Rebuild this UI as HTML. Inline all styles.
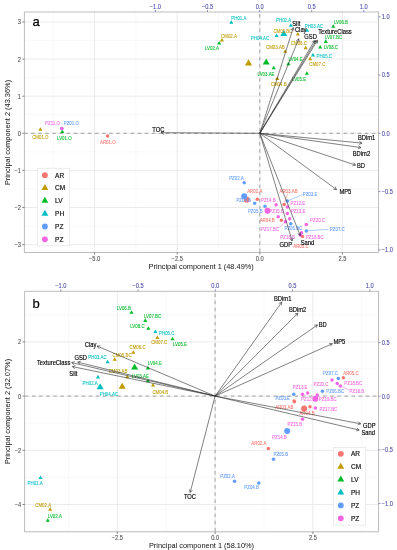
<!DOCTYPE html>
<html><head><meta charset="utf-8"><style>
html,body{margin:0;padding:0;background:#fff;}
body{width:397px;height:550px;overflow:hidden;font-family:"Liberation Sans",sans-serif;}
svg{display:block;filter:blur(0.3px);}
text{font-family:"Liberation Sans",sans-serif;}
</style></head><body>
<svg width="397" height="550" viewBox="0 0 397 550" font-family="Liberation Sans, sans-serif">
<rect width="397" height="550" fill="#fff"/>
<line x1="53.30000000000001" y1="12.0" x2="53.30000000000001" y2="252.5" stroke="#f3f3f3" stroke-width="0.6"/><line x1="135.90000000000003" y1="12.0" x2="135.90000000000003" y2="252.5" stroke="#f3f3f3" stroke-width="0.6"/><line x1="218.5" y1="12.0" x2="218.5" y2="252.5" stroke="#f3f3f3" stroke-width="0.6"/><line x1="301.1" y1="12.0" x2="301.1" y2="252.5" stroke="#f3f3f3" stroke-width="0.6"/><line x1="24.4" y1="40.55000000000001" x2="378.5" y2="40.55000000000001" stroke="#f3f3f3" stroke-width="0.6"/><line x1="24.4" y1="77.65" x2="378.5" y2="77.65" stroke="#f3f3f3" stroke-width="0.6"/><line x1="24.4" y1="114.75000000000001" x2="378.5" y2="114.75000000000001" stroke="#f3f3f3" stroke-width="0.6"/><line x1="24.4" y1="151.85000000000002" x2="378.5" y2="151.85000000000002" stroke="#f3f3f3" stroke-width="0.6"/><line x1="24.4" y1="188.95000000000002" x2="378.5" y2="188.95000000000002" stroke="#f3f3f3" stroke-width="0.6"/><line x1="24.4" y1="226.05" x2="378.5" y2="226.05" stroke="#f3f3f3" stroke-width="0.6"/><line x1="94.60000000000002" y1="12.0" x2="94.60000000000002" y2="252.5" stroke="#e6e6e6" stroke-width="0.8"/><line x1="177.20000000000002" y1="12.0" x2="177.20000000000002" y2="252.5" stroke="#e6e6e6" stroke-width="0.8"/><line x1="259.8" y1="12.0" x2="259.8" y2="252.5" stroke="#e6e6e6" stroke-width="0.8"/><line x1="342.4" y1="12.0" x2="342.4" y2="252.5" stroke="#e6e6e6" stroke-width="0.8"/><line x1="24.4" y1="22.0" x2="378.5" y2="22.0" stroke="#e6e6e6" stroke-width="0.8"/><line x1="24.4" y1="59.10000000000001" x2="378.5" y2="59.10000000000001" stroke="#e6e6e6" stroke-width="0.8"/><line x1="24.4" y1="96.20000000000002" x2="378.5" y2="96.20000000000002" stroke="#e6e6e6" stroke-width="0.8"/><line x1="24.4" y1="133.3" x2="378.5" y2="133.3" stroke="#e6e6e6" stroke-width="0.8"/><line x1="24.4" y1="170.4" x2="378.5" y2="170.4" stroke="#e6e6e6" stroke-width="0.8"/><line x1="24.4" y1="207.5" x2="378.5" y2="207.5" stroke="#e6e6e6" stroke-width="0.8"/><line x1="24.4" y1="244.60000000000002" x2="378.5" y2="244.60000000000002" stroke="#e6e6e6" stroke-width="0.8"/>
<line x1="24.4" y1="133.3" x2="378.5" y2="133.3" stroke="#8c8c8c" stroke-width="0.8" stroke-dasharray="3.55 3.55" stroke-dashoffset="0.4"/>
<line x1="259.8" y1="252.5" x2="259.8" y2="12.0" stroke="#8c8c8c" stroke-width="0.8" stroke-dasharray="3.55 3.55" stroke-dashoffset="6.65"/>
<line x1="306.3" y1="230.9" x2="328.5" y2="229.3" stroke="#619CFF" stroke-width="0.5"/>
<line x1="287.4" y1="201.0" x2="302.5" y2="194.6" stroke="#619CFF" stroke-width="0.5"/>
<line x1="284.1" y1="204.4" x2="287.7" y2="193.5" stroke="#F8766D" stroke-width="0.5"/>
<line x1="285.4" y1="221.7" x2="279.2" y2="227.5" stroke="#F564E3" stroke-width="0.5"/>
<circle cx="107.60" cy="136.00" r="1.75" fill="#F8766D"/>
<circle cx="257.30" cy="199.20" r="1.75" fill="#F8766D"/>
<circle cx="284.10" cy="204.40" r="1.75" fill="#F8766D"/>
<circle cx="281.40" cy="220.20" r="1.75" fill="#F8766D"/>
<circle cx="302.50" cy="236.60" r="1.75" fill="#F8766D"/>
<path d="M38.35 130.78L42.45 130.78L40.40 127.23Z" fill="#C09C00"/>
<path d="M219.85 41.58L223.95 41.58L221.90 38.03Z" fill="#C09C00"/>
<path d="M283.15 52.78L287.25 52.78L285.20 49.23Z" fill="#C09C00"/>
<path d="M275.25 79.88L279.35 79.88L277.30 76.33Z" fill="#C09C00"/>
<path d="M295.75 35.58L299.85 35.58L297.80 32.03Z" fill="#C09C00"/>
<path d="M303.55 49.18L307.65 49.18L305.60 45.63Z" fill="#C09C00"/>
<path d="M308.15 60.28L312.25 60.28L310.20 56.73Z" fill="#C09C00"/>
<path d="M60.25 133.08L64.35 133.08L62.30 129.53Z" fill="#00BB28"/>
<path d="M217.15 44.48L221.25 44.48L219.20 40.93Z" fill="#00BB28"/>
<path d="M271.65 69.28L275.75 69.28L273.70 65.73Z" fill="#00BB28"/>
<path d="M286.35 65.28L290.45 65.28L288.40 61.73Z" fill="#00BB28"/>
<path d="M304.85 74.78L308.95 74.78L306.90 71.23Z" fill="#00BB28"/>
<path d="M331.25 27.68L335.35 27.68L333.30 24.13Z" fill="#00BB28"/>
<path d="M323.75 42.88L327.85 42.88L325.80 39.33Z" fill="#00BB28"/>
<path d="M318.15 48.48L322.25 48.48L320.20 44.93Z" fill="#00BB28"/>
<path d="M229.25 23.78L233.35 23.78L231.30 20.23Z" fill="#00BFC4"/>
<path d="M288.75 26.78L292.85 26.78L290.80 23.23Z" fill="#00BFC4"/>
<path d="M304.95 31.68L309.05 31.68L307.00 28.13Z" fill="#00BFC4"/>
<path d="M274.55 37.08L278.65 37.08L276.60 33.53Z" fill="#00BFC4"/>
<path d="M310.95 56.38L315.05 56.38L313.00 52.83Z" fill="#00BFC4"/>
<circle cx="61.80" cy="128.40" r="1.75" fill="#619CFF"/>
<circle cx="244.20" cy="182.70" r="1.75" fill="#619CFF"/>
<circle cx="287.40" cy="201.00" r="1.75" fill="#619CFF"/>
<circle cx="254.70" cy="203.30" r="1.75" fill="#619CFF"/>
<circle cx="265.00" cy="206.30" r="1.75" fill="#619CFF"/>
<circle cx="290.80" cy="223.70" r="1.75" fill="#619CFF"/>
<circle cx="306.30" cy="230.90" r="1.75" fill="#619CFF"/>
<circle cx="61.80" cy="128.40" r="1.75" fill="#F564E3"/>
<circle cx="287.40" cy="207.00" r="1.75" fill="#F564E3"/>
<circle cx="287.40" cy="213.60" r="1.75" fill="#F564E3"/>
<circle cx="276.10" cy="204.80" r="1.75" fill="#F564E3"/>
<circle cx="278.20" cy="216.70" r="1.75" fill="#F564E3"/>
<circle cx="300.30" cy="235.00" r="1.75" fill="#F564E3"/>
<circle cx="285.40" cy="221.70" r="1.75" fill="#F564E3"/>
<circle cx="301.50" cy="232.80" r="1.75" fill="#F564E3"/>
<circle cx="289.60" cy="218.70" r="1.75" fill="#F564E3"/>
<circle cx="306.30" cy="224.60" r="1.75" fill="#F564E3"/>
<circle cx="246.80" cy="199.80" r="3.0" fill="#F8766D"/>
<path d="M245.00 65.42L252.00 65.42L248.50 59.36Z" fill="#C09C00"/>
<path d="M262.70 64.62L269.70 64.62L266.20 58.56Z" fill="#00BB28"/>
<path d="M280.20 36.02L287.20 36.02L283.70 29.96Z" fill="#00BFC4"/>
<circle cx="244.20" cy="196.20" r="3.0" fill="#619CFF"/>
<circle cx="267.50" cy="210.70" r="3.0" fill="#F564E3"/>
<text transform="translate(107.80,143.90) scale(0.8333,1)" font-size="5.28" fill="#F8766D" stroke="#F8766D" stroke-width="0.090" text-anchor="middle" >AR01.O</text>
<text transform="translate(254.75,192.70) scale(0.8333,1)" font-size="5.28" fill="#F8766D" stroke="#F8766D" stroke-width="0.090" text-anchor="middle" >AR02.A</text>
<text transform="translate(288.55,193.10) scale(0.8333,1)" font-size="5.28" fill="#F8766D" stroke="#F8766D" stroke-width="0.090" text-anchor="middle" >AR03.AB</text>
<text transform="translate(267.20,221.90) scale(0.8333,1)" font-size="5.28" fill="#F8766D" stroke="#F8766D" stroke-width="0.090" text-anchor="middle" >AR04.B</text>
<text transform="translate(300.90,248.30) scale(0.8333,1)" font-size="5.28" fill="#F8766D" stroke="#F8766D" stroke-width="0.090" text-anchor="middle" >AR05.C</text>
<text transform="translate(40.35,138.80) scale(0.8333,1)" font-size="5.28" fill="#C09C00" stroke="#C09C00" stroke-width="0.090" text-anchor="middle" >CM01.O</text>
<text transform="translate(229.00,37.80) scale(0.8333,1)" font-size="5.28" fill="#C09C00" stroke="#C09C00" stroke-width="0.090" text-anchor="middle" >CM02.A</text>
<text transform="translate(275.40,49.00) scale(0.8333,1)" font-size="5.28" fill="#C09C00" stroke="#C09C00" stroke-width="0.090" text-anchor="middle" >CM03.AB</text>
<text transform="translate(278.70,86.20) scale(0.8333,1)" font-size="5.28" fill="#C09C00" stroke="#C09C00" stroke-width="0.090" text-anchor="middle" >CM04.B</text>
<text transform="translate(282.95,32.80) scale(0.8333,1)" font-size="5.28" fill="#C09C00" stroke="#C09C00" stroke-width="0.090" text-anchor="middle" >CM05.BC</text>
<text transform="translate(298.85,45.30) scale(0.8333,1)" font-size="5.28" fill="#C09C00" stroke="#C09C00" stroke-width="0.090" text-anchor="middle" >CM06.C</text>
<text transform="translate(317.30,66.30) scale(0.8333,1)" font-size="5.28" fill="#C09C00" stroke="#C09C00" stroke-width="0.090" text-anchor="middle" >CM07.C</text>
<text transform="translate(64.30,139.60) scale(0.8333,1)" font-size="5.28" fill="#00BB28" stroke="#00BB28" stroke-width="0.090" text-anchor="middle" >LV01.O</text>
<text transform="translate(212.00,50.20) scale(0.8333,1)" font-size="5.28" fill="#00BB28" stroke="#00BB28" stroke-width="0.090" text-anchor="middle" >LV02.A</text>
<text transform="translate(266.00,75.50) scale(0.8333,1)" font-size="5.28" fill="#00BB28" stroke="#00BB28" stroke-width="0.090" text-anchor="middle" >LV03.AE</text>
<text transform="translate(295.65,61.00) scale(0.8333,1)" font-size="5.28" fill="#00BB28" stroke="#00BB28" stroke-width="0.090" text-anchor="middle" >LV04.E</text>
<text transform="translate(299.05,80.70) scale(0.8333,1)" font-size="5.28" fill="#00BB28" stroke="#00BB28" stroke-width="0.090" text-anchor="middle" >LV05.E</text>
<text transform="translate(340.95,24.00) scale(0.8333,1)" font-size="5.28" fill="#00BB28" stroke="#00BB28" stroke-width="0.090" text-anchor="middle" >LV06.B</text>
<text transform="translate(333.45,38.50) scale(0.8333,1)" font-size="5.28" fill="#00BB28" stroke="#00BB28" stroke-width="0.090" text-anchor="middle" >LV07.BC</text>
<text transform="translate(330.85,48.80) scale(0.8333,1)" font-size="5.28" fill="#00BB28" stroke="#00BB28" stroke-width="0.090" text-anchor="middle" >LV08.C</text>
<text transform="translate(238.85,20.20) scale(0.8333,1)" font-size="5.28" fill="#00BFC4" stroke="#00BFC4" stroke-width="0.090" text-anchor="middle" >PH01.A</text>
<text transform="translate(283.60,22.20) scale(0.8333,1)" font-size="5.28" fill="#00BFC4" stroke="#00BFC4" stroke-width="0.090" text-anchor="middle" >PH02.A</text>
<text transform="translate(313.90,27.60) scale(0.8333,1)" font-size="5.28" fill="#00BFC4" stroke="#00BFC4" stroke-width="0.090" text-anchor="middle" >PH03.AC</text>
<text transform="translate(260.00,40.20) scale(0.8333,1)" font-size="5.28" fill="#00BFC4" stroke="#00BFC4" stroke-width="0.090" text-anchor="middle" >PH04.AC</text>
<text transform="translate(324.30,57.60) scale(0.8333,1)" font-size="5.28" fill="#00BFC4" stroke="#00BFC4" stroke-width="0.090" text-anchor="middle" >PH05.C</text>
<text transform="translate(71.30,125.00) scale(0.8333,1)" font-size="5.28" fill="#619CFF" stroke="#619CFF" stroke-width="0.090" text-anchor="middle" >PZ01.O</text>
<text transform="translate(236.45,180.00) scale(0.8333,1)" font-size="5.28" fill="#619CFF" stroke="#619CFF" stroke-width="0.090" text-anchor="middle" >PZ02.A</text>
<text transform="translate(310.05,196.10) scale(0.8333,1)" font-size="5.28" fill="#619CFF" stroke="#619CFF" stroke-width="0.090" text-anchor="middle" >PZ03.E</text>
<text transform="translate(243.70,201.70) scale(0.8333,1)" font-size="5.28" fill="#619CFF" stroke="#619CFF" stroke-width="0.090" text-anchor="middle" >PZ04.B</text>
<text transform="translate(255.25,212.80) scale(0.8333,1)" font-size="5.28" fill="#619CFF" stroke="#619CFF" stroke-width="0.090" text-anchor="middle" >PZ05.B</text>
<text transform="translate(293.35,230.30) scale(0.8333,1)" font-size="5.28" fill="#619CFF" stroke="#619CFF" stroke-width="0.090" text-anchor="middle" >PZ06.BC</text>
<text transform="translate(337.30,231.10) scale(0.8333,1)" font-size="5.28" fill="#619CFF" stroke="#619CFF" stroke-width="0.090" text-anchor="middle" >PZ07.C</text>
<text transform="translate(52.45,125.00) scale(0.8333,1)" font-size="5.28" fill="#F564E3" stroke="#F564E3" stroke-width="0.090" text-anchor="middle" >PZ11.O</text>
<text transform="translate(297.90,204.50) scale(0.8333,1)" font-size="5.28" fill="#F564E3" stroke="#F564E3" stroke-width="0.090" text-anchor="middle" >PZ12.E</text>
<text transform="translate(298.05,213.30) scale(0.8333,1)" font-size="5.28" fill="#F564E3" stroke="#F564E3" stroke-width="0.090" text-anchor="middle" >PZ13.E</text>
<text transform="translate(268.30,202.20) scale(0.8333,1)" font-size="5.28" fill="#F564E3" stroke="#F564E3" stroke-width="0.090" text-anchor="middle" >PZ14.B</text>
<text transform="translate(276.60,213.30) scale(0.8333,1)" font-size="5.28" fill="#F564E3" stroke="#F564E3" stroke-width="0.090" text-anchor="middle" >PZ15.B</text>
<text transform="translate(287.65,238.70) scale(0.8333,1)" font-size="5.28" fill="#F564E3" stroke="#F564E3" stroke-width="0.090" text-anchor="middle" >PZ16.B</text>
<text transform="translate(270.00,230.70) scale(0.8333,1)" font-size="5.28" fill="#F564E3" stroke="#F564E3" stroke-width="0.090" text-anchor="middle" >PZ17.BC</text>
<text transform="translate(314.80,239.20) scale(0.8333,1)" font-size="5.28" fill="#F564E3" stroke="#F564E3" stroke-width="0.090" text-anchor="middle" >PZ18.BC</text>
<text transform="translate(317.55,222.10) scale(0.8333,1)" font-size="5.28" fill="#F564E3" stroke="#F564E3" stroke-width="0.090" text-anchor="middle" >PZ20.C</text>
<line x1="259.80" y1="133.30" x2="293.30" y2="27.60" stroke="#2b2b2b" stroke-width="0.6"/><polyline points="290.94,29.76 293.30,27.60 293.99,30.73" fill="none" stroke="#2b2b2b" stroke-width="0.6"/>
<line x1="259.80" y1="133.30" x2="298.80" y2="38.80" stroke="#2b2b2b" stroke-width="0.6"/><polyline points="296.26,40.75 298.80,38.80 299.22,41.97" fill="none" stroke="#2b2b2b" stroke-width="0.6"/>
<line x1="259.80" y1="133.30" x2="314.60" y2="40.50" stroke="#2b2b2b" stroke-width="0.6"/><polyline points="311.81,42.07 314.60,40.50 314.57,43.70" fill="none" stroke="#2b2b2b" stroke-width="0.6"/>
<line x1="259.80" y1="133.30" x2="316.10" y2="40.60" stroke="#2b2b2b" stroke-width="0.6"/><polyline points="313.29,42.14 316.10,40.60 316.03,43.80" fill="none" stroke="#2b2b2b" stroke-width="0.6"/>
<line x1="259.80" y1="133.30" x2="317.60" y2="40.20" stroke="#2b2b2b" stroke-width="0.6"/><polyline points="314.78,41.71 317.60,40.20 317.50,43.40" fill="none" stroke="#2b2b2b" stroke-width="0.6"/>
<line x1="259.80" y1="133.30" x2="362.00" y2="143.10" stroke="#2b2b2b" stroke-width="0.6"/><polyline points="359.39,141.24 362.00,143.10 359.09,144.43" fill="none" stroke="#2b2b2b" stroke-width="0.6"/>
<line x1="259.80" y1="133.30" x2="361.00" y2="147.60" stroke="#2b2b2b" stroke-width="0.6"/><polyline points="358.48,145.63 361.00,147.60 358.03,148.80" fill="none" stroke="#2b2b2b" stroke-width="0.6"/>
<line x1="259.80" y1="133.30" x2="355.60" y2="165.10" stroke="#2b2b2b" stroke-width="0.6"/><polyline points="353.47,162.71 355.60,165.10 352.47,165.75" fill="none" stroke="#2b2b2b" stroke-width="0.6"/>
<line x1="259.80" y1="133.30" x2="336.50" y2="189.60" stroke="#2b2b2b" stroke-width="0.6"/><polyline points="335.21,186.67 336.50,189.60 333.32,189.25" fill="none" stroke="#2b2b2b" stroke-width="0.6"/>
<line x1="259.80" y1="133.30" x2="292.20" y2="241.00" stroke="#2b2b2b" stroke-width="0.6"/><polyline points="292.93,237.89 292.20,241.00 289.87,238.81" fill="none" stroke="#2b2b2b" stroke-width="0.6"/>
<line x1="259.80" y1="133.30" x2="300.20" y2="235.50" stroke="#2b2b2b" stroke-width="0.6"/><polyline points="300.67,232.33 300.20,235.50 297.69,233.51" fill="none" stroke="#2b2b2b" stroke-width="0.6"/>
<line x1="259.80" y1="133.30" x2="161.20" y2="132.70" stroke="#2b2b2b" stroke-width="0.6"/><polyline points="163.96,134.32 161.20,132.70 163.98,131.12" fill="none" stroke="#2b2b2b" stroke-width="0.6"/>
<text transform="translate(296.25,25.51) scale(0.8333,1)" font-size="6.96" fill="#000" stroke="#000" stroke-width="0.160" text-anchor="middle" >Silt</text>
<text transform="translate(300.70,32.31) scale(0.8333,1)" font-size="6.96" fill="#000" stroke="#000" stroke-width="0.160" text-anchor="middle" >Clay</text>
<text transform="translate(310.55,39.21) scale(0.8333,1)" font-size="6.96" fill="#000" stroke="#000" stroke-width="0.160" text-anchor="middle" >GSD</text>
<text transform="translate(334.95,34.31) scale(0.8333,1)" font-size="6.96" fill="#000" stroke="#000" stroke-width="0.160" text-anchor="middle" >TextureClass</text>
<text transform="translate(366.60,140.41) scale(0.8333,1)" font-size="6.96" fill="#000" stroke="#000" stroke-width="0.160" text-anchor="middle" >BDim1</text>
<text transform="translate(361.45,156.21) scale(0.8333,1)" font-size="6.96" fill="#000" stroke="#000" stroke-width="0.160" text-anchor="middle" >BDim2</text>
<text transform="translate(360.95,168.01) scale(0.8333,1)" font-size="6.96" fill="#000" stroke="#000" stroke-width="0.160" text-anchor="middle" >BD</text>
<text transform="translate(345.35,193.71) scale(0.8333,1)" font-size="6.96" fill="#000" stroke="#000" stroke-width="0.160" text-anchor="middle" >MP5</text>
<text transform="translate(285.85,246.91) scale(0.8333,1)" font-size="6.96" fill="#000" stroke="#000" stroke-width="0.160" text-anchor="middle" >GDP</text>
<text transform="translate(307.45,244.91) scale(0.8333,1)" font-size="6.96" fill="#000" stroke="#000" stroke-width="0.160" text-anchor="middle" >Sand</text>
<text transform="translate(158.30,131.81) scale(0.8333,1)" font-size="6.96" fill="#000" stroke="#000" stroke-width="0.160" text-anchor="middle" >TOC</text>
<rect x="37.4" y="168.2" width="32" height="77.6" fill="#fff" stroke="#e0e0e0" stroke-width="0.6"/>
<circle cx="44.90" cy="175.20" r="2.9" fill="#F8766D"/><text x="55.10" y="177.60" font-size="6.5" fill="#111" stroke="#111" stroke-width="0.180" text-anchor="start" >AR</text><path d="M41.45 190.01L48.35 190.01L44.90 184.04Z" fill="#C09C00"/><text x="55.10" y="190.42" font-size="6.5" fill="#111" stroke="#111" stroke-width="0.180" text-anchor="start" >CM</text><path d="M41.45 202.83L48.35 202.83L44.90 196.86Z" fill="#00BB28"/><text x="55.10" y="203.24" font-size="6.5" fill="#111" stroke="#111" stroke-width="0.180" text-anchor="start" >LV</text><path d="M41.45 215.65L48.35 215.65L44.90 209.68Z" fill="#00BFC4"/><text x="55.10" y="216.06" font-size="6.5" fill="#111" stroke="#111" stroke-width="0.180" text-anchor="start" >PH</text><circle cx="44.90" cy="226.48" r="2.9" fill="#619CFF"/><text x="55.10" y="228.88" font-size="6.5" fill="#111" stroke="#111" stroke-width="0.180" text-anchor="start" >PZ</text><circle cx="44.90" cy="239.30" r="2.9" fill="#F564E3"/><text x="55.10" y="241.70" font-size="6.5" fill="#111" stroke="#111" stroke-width="0.180" text-anchor="start" >PZ</text>
<rect x="24.4" y="12.0" width="354.1" height="240.5" fill="none" stroke="#bdbdbd" stroke-width="1"/>
<line x1="94.60000000000002" y1="252.5" x2="94.60000000000002" y2="254.5" stroke="#333" stroke-width="0.6"/>
<text transform="translate(94.60,261.40) scale(0.8333,1)" font-size="6.84" fill="#4d4d4d" stroke="#4d4d4d" stroke-width="0.090" text-anchor="middle" >−5.0</text>
<line x1="177.20000000000002" y1="252.5" x2="177.20000000000002" y2="254.5" stroke="#333" stroke-width="0.6"/>
<text transform="translate(177.20,261.40) scale(0.8333,1)" font-size="6.84" fill="#4d4d4d" stroke="#4d4d4d" stroke-width="0.090" text-anchor="middle" >−2.5</text>
<line x1="259.8" y1="252.5" x2="259.8" y2="254.5" stroke="#333" stroke-width="0.6"/>
<text transform="translate(259.80,261.40) scale(0.8333,1)" font-size="6.84" fill="#4d4d4d" stroke="#4d4d4d" stroke-width="0.090" text-anchor="middle" >0.0</text>
<line x1="342.4" y1="252.5" x2="342.4" y2="254.5" stroke="#333" stroke-width="0.6"/>
<text transform="translate(342.40,261.40) scale(0.8333,1)" font-size="6.84" fill="#4d4d4d" stroke="#4d4d4d" stroke-width="0.090" text-anchor="middle" >2.5</text>
<line x1="22.4" y1="22.0" x2="24.4" y2="22.0" stroke="#333" stroke-width="0.6"/>
<text transform="translate(21.00,24.45) scale(0.8333,1)" font-size="6.84" fill="#4d4d4d" stroke="#4d4d4d" stroke-width="0.090" text-anchor="end" >3</text>
<line x1="22.4" y1="59.10000000000001" x2="24.4" y2="59.10000000000001" stroke="#333" stroke-width="0.6"/>
<text transform="translate(21.00,61.55) scale(0.8333,1)" font-size="6.84" fill="#4d4d4d" stroke="#4d4d4d" stroke-width="0.090" text-anchor="end" >2</text>
<line x1="22.4" y1="96.20000000000002" x2="24.4" y2="96.20000000000002" stroke="#333" stroke-width="0.6"/>
<text transform="translate(21.00,98.65) scale(0.8333,1)" font-size="6.84" fill="#4d4d4d" stroke="#4d4d4d" stroke-width="0.090" text-anchor="end" >1</text>
<line x1="22.4" y1="133.3" x2="24.4" y2="133.3" stroke="#333" stroke-width="0.6"/>
<text transform="translate(21.00,135.75) scale(0.8333,1)" font-size="6.84" fill="#4d4d4d" stroke="#4d4d4d" stroke-width="0.090" text-anchor="end" >0</text>
<line x1="22.4" y1="170.4" x2="24.4" y2="170.4" stroke="#333" stroke-width="0.6"/>
<text transform="translate(21.00,172.85) scale(0.8333,1)" font-size="6.84" fill="#4d4d4d" stroke="#4d4d4d" stroke-width="0.090" text-anchor="end" >−1</text>
<line x1="22.4" y1="207.5" x2="24.4" y2="207.5" stroke="#333" stroke-width="0.6"/>
<text transform="translate(21.00,209.95) scale(0.8333,1)" font-size="6.84" fill="#4d4d4d" stroke="#4d4d4d" stroke-width="0.090" text-anchor="end" >−2</text>
<line x1="22.4" y1="244.60000000000002" x2="24.4" y2="244.60000000000002" stroke="#333" stroke-width="0.6"/>
<text transform="translate(21.00,247.05) scale(0.8333,1)" font-size="6.84" fill="#4d4d4d" stroke="#4d4d4d" stroke-width="0.090" text-anchor="end" >−3</text>
<line x1="155.40000000000003" y1="10.0" x2="155.40000000000003" y2="12.0" stroke="#4b4ba6" stroke-width="0.6"/>
<text transform="translate(155.40,8.80) scale(0.8333,1)" font-size="6.84" fill="#4b4ba6" stroke="#4b4ba6" stroke-width="0.090" text-anchor="middle" >−1.0</text>
<line x1="207.50000000000003" y1="10.0" x2="207.50000000000003" y2="12.0" stroke="#4b4ba6" stroke-width="0.6"/>
<text transform="translate(207.50,8.80) scale(0.8333,1)" font-size="6.84" fill="#4b4ba6" stroke="#4b4ba6" stroke-width="0.090" text-anchor="middle" >−0.5</text>
<line x1="259.6" y1="10.0" x2="259.6" y2="12.0" stroke="#4b4ba6" stroke-width="0.6"/>
<text transform="translate(259.60,8.80) scale(0.8333,1)" font-size="6.84" fill="#4b4ba6" stroke="#4b4ba6" stroke-width="0.090" text-anchor="middle" >0.0</text>
<line x1="311.70000000000005" y1="10.0" x2="311.70000000000005" y2="12.0" stroke="#4b4ba6" stroke-width="0.6"/>
<text transform="translate(311.70,8.80) scale(0.8333,1)" font-size="6.84" fill="#4b4ba6" stroke="#4b4ba6" stroke-width="0.090" text-anchor="middle" >0.5</text>
<line x1="363.8" y1="10.0" x2="363.8" y2="12.0" stroke="#4b4ba6" stroke-width="0.6"/>
<text transform="translate(363.80,8.80) scale(0.8333,1)" font-size="6.84" fill="#4b4ba6" stroke="#4b4ba6" stroke-width="0.090" text-anchor="middle" >1.0</text>
<line x1="378.5" y1="16.700000000000017" x2="380.5" y2="16.700000000000017" stroke="#4b4ba6" stroke-width="0.6"/>
<text transform="translate(381.70,19.15) scale(0.8333,1)" font-size="6.84" fill="#4b4ba6" stroke="#4b4ba6" stroke-width="0.090" text-anchor="start" >1.0</text>
<line x1="378.5" y1="75.00000000000001" x2="380.5" y2="75.00000000000001" stroke="#4b4ba6" stroke-width="0.6"/>
<text transform="translate(381.70,77.45) scale(0.8333,1)" font-size="6.84" fill="#4b4ba6" stroke="#4b4ba6" stroke-width="0.090" text-anchor="start" >0.5</text>
<line x1="378.5" y1="133.3" x2="380.5" y2="133.3" stroke="#4b4ba6" stroke-width="0.6"/>
<text transform="translate(381.70,135.75) scale(0.8333,1)" font-size="6.84" fill="#4b4ba6" stroke="#4b4ba6" stroke-width="0.090" text-anchor="start" >0.0</text>
<line x1="378.5" y1="191.60000000000002" x2="380.5" y2="191.60000000000002" stroke="#4b4ba6" stroke-width="0.6"/>
<text transform="translate(381.70,194.05) scale(0.8333,1)" font-size="6.84" fill="#4b4ba6" stroke="#4b4ba6" stroke-width="0.090" text-anchor="start" >−0.5</text>
<line x1="378.5" y1="249.9" x2="380.5" y2="249.9" stroke="#4b4ba6" stroke-width="0.6"/>
<text transform="translate(381.70,252.35) scale(0.8333,1)" font-size="6.84" fill="#4b4ba6" stroke="#4b4ba6" stroke-width="0.090" text-anchor="start" >−1.0</text>
<text x="201.20" y="268.60" font-size="7.4" fill="#111" text-anchor="middle" >Principal component 1 (48.49%)</text>
<text transform="translate(9.8,132.5) rotate(-90)" font-size="7.4" fill="#111" text-anchor="middle">Principal component 2 (43.36%)</text>
<text x="32.60" y="25.50" font-size="13" fill="#000" stroke="#000" stroke-width="0.250" text-anchor="start" >a</text>
<line x1="68.475" y1="291.3" x2="68.475" y2="531.8" stroke="#f3f3f3" stroke-width="0.6"/><line x1="166.225" y1="291.3" x2="166.225" y2="531.8" stroke="#f3f3f3" stroke-width="0.6"/><line x1="263.975" y1="291.3" x2="263.975" y2="531.8" stroke="#f3f3f3" stroke-width="0.6"/><line x1="361.725" y1="291.3" x2="361.725" y2="531.8" stroke="#f3f3f3" stroke-width="0.6"/><line x1="24.6" y1="314.8" x2="378.5" y2="314.8" stroke="#f3f3f3" stroke-width="0.6"/><line x1="24.6" y1="369.0" x2="378.5" y2="369.0" stroke="#f3f3f3" stroke-width="0.6"/><line x1="24.6" y1="423.20000000000005" x2="378.5" y2="423.20000000000005" stroke="#f3f3f3" stroke-width="0.6"/><line x1="24.6" y1="477.40000000000003" x2="378.5" y2="477.40000000000003" stroke="#f3f3f3" stroke-width="0.6"/><line x1="24.6" y1="531.6" x2="378.5" y2="531.6" stroke="#f3f3f3" stroke-width="0.6"/><line x1="117.35" y1="291.3" x2="117.35" y2="531.8" stroke="#e6e6e6" stroke-width="0.8"/><line x1="215.1" y1="291.3" x2="215.1" y2="531.8" stroke="#e6e6e6" stroke-width="0.8"/><line x1="312.85" y1="291.3" x2="312.85" y2="531.8" stroke="#e6e6e6" stroke-width="0.8"/><line x1="24.6" y1="341.90000000000003" x2="378.5" y2="341.90000000000003" stroke="#e6e6e6" stroke-width="0.8"/><line x1="24.6" y1="396.1" x2="378.5" y2="396.1" stroke="#e6e6e6" stroke-width="0.8"/><line x1="24.6" y1="450.3" x2="378.5" y2="450.3" stroke="#e6e6e6" stroke-width="0.8"/><line x1="24.6" y1="504.5" x2="378.5" y2="504.5" stroke="#e6e6e6" stroke-width="0.8"/>
<line x1="24.6" y1="396.1" x2="378.5" y2="396.1" stroke="#8c8c8c" stroke-width="0.8" stroke-dasharray="3.55 3.55" stroke-dashoffset="-0.3"/>
<line x1="215.1" y1="531.8" x2="215.1" y2="291.3" stroke="#8c8c8c" stroke-width="0.8" stroke-dasharray="3.55 3.55" stroke-dashoffset="6.65"/>
<line x1="340.3" y1="385.9" x2="349.5" y2="390.2" stroke="#F564E3" stroke-width="0.5"/>
<circle cx="268.30" cy="448.40" r="1.75" fill="#F8766D"/>
<circle cx="294.40" cy="401.80" r="1.75" fill="#F8766D"/>
<circle cx="294.10" cy="401.10" r="1.75" fill="#F8766D"/>
<circle cx="310.00" cy="406.70" r="1.75" fill="#F8766D"/>
<circle cx="343.30" cy="377.70" r="1.75" fill="#F8766D"/>
<path d="M48.15 510.78L52.25 510.78L50.20 507.23Z" fill="#C09C00"/>
<path d="M125.25 378.18L129.35 378.18L127.30 374.63Z" fill="#C09C00"/>
<path d="M150.95 386.48L155.05 386.48L153.00 382.93Z" fill="#C09C00"/>
<path d="M112.65 360.78L116.75 360.78L114.70 357.23Z" fill="#C09C00"/>
<path d="M131.25 353.78L135.35 353.78L133.30 350.23Z" fill="#C09C00"/>
<path d="M155.35 338.98L159.45 338.98L157.40 335.43Z" fill="#C09C00"/>
<path d="M45.75 521.78L49.85 521.78L47.80 518.23Z" fill="#00BB28"/>
<path d="M145.85 382.18L149.95 382.18L147.90 378.63Z" fill="#00BB28"/>
<path d="M145.85 369.38L149.95 369.38L147.90 365.83Z" fill="#00BB28"/>
<path d="M170.45 340.28L174.55 340.28L172.50 336.73Z" fill="#00BB28"/>
<path d="M129.45 313.78L133.55 313.78L131.50 310.23Z" fill="#00BB28"/>
<path d="M143.25 321.88L147.35 321.88L145.30 318.33Z" fill="#00BB28"/>
<path d="M146.35 329.68L150.45 329.68L148.40 326.13Z" fill="#00BB28"/>
<path d="M38.45 479.08L42.55 479.08L40.50 475.53Z" fill="#00BFC4"/>
<path d="M95.95 378.38L100.05 378.38L98.00 374.83Z" fill="#00BFC4"/>
<path d="M105.55 363.28L109.65 363.28L107.60 359.73Z" fill="#00BFC4"/>
<path d="M153.35 332.98L157.45 332.98L155.40 329.43Z" fill="#00BFC4"/>
<circle cx="234.50" cy="481.20" r="1.75" fill="#619CFF"/>
<circle cx="293.70" cy="394.30" r="1.75" fill="#619CFF"/>
<circle cx="258.80" cy="482.90" r="1.75" fill="#619CFF"/>
<circle cx="273.50" cy="459.30" r="1.75" fill="#619CFF"/>
<circle cx="322.40" cy="391.30" r="1.75" fill="#619CFF"/>
<circle cx="338.30" cy="378.40" r="1.75" fill="#619CFF"/>
<circle cx="315.40" cy="398.80" r="1.75" fill="#F564E3"/>
<circle cx="302.50" cy="394.30" r="1.75" fill="#F564E3"/>
<circle cx="307.70" cy="393.10" r="1.75" fill="#F564E3"/>
<circle cx="302.50" cy="419.20" r="1.75" fill="#F564E3"/>
<circle cx="337.20" cy="383.60" r="1.75" fill="#F564E3"/>
<circle cx="340.30" cy="385.90" r="1.75" fill="#F564E3"/>
<circle cx="317.20" cy="395.00" r="1.75" fill="#F564E3"/>
<circle cx="315.40" cy="407.90" r="1.75" fill="#F564E3"/>
<circle cx="332.00" cy="380.00" r="1.75" fill="#F564E3"/>
<circle cx="304.10" cy="408.60" r="3.0" fill="#F8766D"/>
<path d="M118.70 388.82L125.70 388.82L122.20 382.76Z" fill="#C09C00"/>
<path d="M131.10 369.52L138.10 369.52L134.60 363.46Z" fill="#00BB28"/>
<path d="M96.60 389.22L103.60 389.22L100.10 383.16Z" fill="#00BFC4"/>
<circle cx="287.20" cy="431.00" r="3.0" fill="#619CFF"/>
<circle cx="315.40" cy="398.80" r="3.0" fill="#F564E3"/>
<text transform="translate(258.85,445.30) scale(0.8333,1)" font-size="5.28" fill="#F8766D" stroke="#F8766D" stroke-width="0.090" text-anchor="middle" >AR02.A</text>
<text transform="translate(284.30,408.60) scale(0.8333,1)" font-size="5.28" fill="#F8766D" stroke="#F8766D" stroke-width="0.090" text-anchor="middle" >AR03.AB</text>
<text transform="translate(307.00,415.40) scale(0.8333,1)" font-size="5.28" fill="#F8766D" stroke="#F8766D" stroke-width="0.090" text-anchor="middle" >AR04.B</text>
<text transform="translate(350.90,374.60) scale(0.8333,1)" font-size="5.28" fill="#F8766D" stroke="#F8766D" stroke-width="0.090" text-anchor="middle" >AR05.C</text>
<text transform="translate(43.15,506.80) scale(0.8333,1)" font-size="5.28" fill="#C09C00" stroke="#C09C00" stroke-width="0.090" text-anchor="middle" >CM02.A</text>
<text transform="translate(118.05,373.30) scale(0.8333,1)" font-size="5.28" fill="#C09C00" stroke="#C09C00" stroke-width="0.090" text-anchor="middle" >CM03.AB</text>
<text transform="translate(160.30,393.50) scale(0.8333,1)" font-size="5.28" fill="#C09C00" stroke="#C09C00" stroke-width="0.090" text-anchor="middle" >CM04.B</text>
<text transform="translate(122.05,356.90) scale(0.8333,1)" font-size="5.28" fill="#C09C00" stroke="#C09C00" stroke-width="0.090" text-anchor="middle" >CM05.BC</text>
<text transform="translate(137.50,348.50) scale(0.8333,1)" font-size="5.28" fill="#C09C00" stroke="#C09C00" stroke-width="0.090" text-anchor="middle" >CM06.C</text>
<text transform="translate(159.20,344.30) scale(0.8333,1)" font-size="5.28" fill="#C09C00" stroke="#C09C00" stroke-width="0.090" text-anchor="middle" >CM07.C</text>
<text transform="translate(54.85,518.10) scale(0.8333,1)" font-size="5.28" fill="#00BB28" stroke="#00BB28" stroke-width="0.090" text-anchor="middle" >LV02.A</text>
<text transform="translate(140.35,378.40) scale(0.8333,1)" font-size="5.28" fill="#00BB28" stroke="#00BB28" stroke-width="0.090" text-anchor="middle" >LV03.AE</text>
<text transform="translate(154.85,365.30) scale(0.8333,1)" font-size="5.28" fill="#00BB28" stroke="#00BB28" stroke-width="0.090" text-anchor="middle" >LV04.E</text>
<text transform="translate(179.95,346.00) scale(0.8333,1)" font-size="5.28" fill="#00BB28" stroke="#00BB28" stroke-width="0.090" text-anchor="middle" >LV05.E</text>
<text transform="translate(123.90,309.50) scale(0.8333,1)" font-size="5.28" fill="#00BB28" stroke="#00BB28" stroke-width="0.090" text-anchor="middle" >LV06.B</text>
<text transform="translate(152.55,317.80) scale(0.8333,1)" font-size="5.28" fill="#00BB28" stroke="#00BB28" stroke-width="0.090" text-anchor="middle" >LV07.BC</text>
<text transform="translate(137.40,328.10) scale(0.8333,1)" font-size="5.28" fill="#00BB28" stroke="#00BB28" stroke-width="0.090" text-anchor="middle" >LV08.C</text>
<text transform="translate(35.10,485.20) scale(0.8333,1)" font-size="5.28" fill="#00BFC4" stroke="#00BFC4" stroke-width="0.090" text-anchor="middle" >PH01.A</text>
<text transform="translate(90.15,384.80) scale(0.8333,1)" font-size="5.28" fill="#00BFC4" stroke="#00BFC4" stroke-width="0.090" text-anchor="middle" >PH02.A</text>
<text transform="translate(97.45,359.10) scale(0.8333,1)" font-size="5.28" fill="#00BFC4" stroke="#00BFC4" stroke-width="0.090" text-anchor="middle" >PH03.AC</text>
<text transform="translate(108.85,396.00) scale(0.8333,1)" font-size="5.28" fill="#00BFC4" stroke="#00BFC4" stroke-width="0.090" text-anchor="middle" >PH04.AC</text>
<text transform="translate(166.75,334.70) scale(0.8333,1)" font-size="5.28" fill="#00BFC4" stroke="#00BFC4" stroke-width="0.090" text-anchor="middle" >PH05.C</text>
<text transform="translate(227.55,478.30) scale(0.8333,1)" font-size="5.28" fill="#619CFF" stroke="#619CFF" stroke-width="0.090" text-anchor="middle" >PZ02.A</text>
<text transform="translate(282.70,399.60) scale(0.8333,1)" font-size="5.28" fill="#619CFF" stroke="#619CFF" stroke-width="0.090" text-anchor="middle" >PZ03.E</text>
<text transform="translate(251.60,489.40) scale(0.8333,1)" font-size="5.28" fill="#619CFF" stroke="#619CFF" stroke-width="0.090" text-anchor="middle" >PZ04.B</text>
<text transform="translate(280.80,456.40) scale(0.8333,1)" font-size="5.28" fill="#619CFF" stroke="#619CFF" stroke-width="0.090" text-anchor="middle" >PZ05.B</text>
<text transform="translate(335.15,393.20) scale(0.8333,1)" font-size="5.28" fill="#619CFF" stroke="#619CFF" stroke-width="0.090" text-anchor="middle" >PZ06.BC</text>
<text transform="translate(330.55,375.20) scale(0.8333,1)" font-size="5.28" fill="#619CFF" stroke="#619CFF" stroke-width="0.090" text-anchor="middle" >PZ07.C</text>
<text transform="translate(308.40,400.70) scale(0.8333,1)" font-size="5.28" fill="#F564E3" stroke="#F564E3" stroke-width="0.090" text-anchor="middle" >PZ12.E</text>
<text transform="translate(300.15,389.40) scale(0.8333,1)" font-size="5.28" fill="#F564E3" stroke="#F564E3" stroke-width="0.090" text-anchor="middle" >PZ13.E</text>
<text transform="translate(279.40,439.30) scale(0.8333,1)" font-size="5.28" fill="#F564E3" stroke="#F564E3" stroke-width="0.090" text-anchor="middle" >PZ14.B</text>
<text transform="translate(294.80,425.70) scale(0.8333,1)" font-size="5.28" fill="#F564E3" stroke="#F564E3" stroke-width="0.090" text-anchor="middle" >PZ15.B</text>
<text transform="translate(356.90,393.20) scale(0.8333,1)" font-size="5.28" fill="#F564E3" stroke="#F564E3" stroke-width="0.090" text-anchor="middle" >PZ16.B</text>
<text transform="translate(328.35,411.40) scale(0.8333,1)" font-size="5.28" fill="#F564E3" stroke="#F564E3" stroke-width="0.090" text-anchor="middle" >PZ17.BC</text>
<text transform="translate(353.25,384.80) scale(0.8333,1)" font-size="5.28" fill="#F564E3" stroke="#F564E3" stroke-width="0.090" text-anchor="middle" >PZ18.BC</text>
<text transform="translate(327.75,401.40) scale(0.8333,1)" font-size="5.28" fill="#F564E3" stroke="#F564E3" stroke-width="0.090" text-anchor="middle" >PZ19.BC</text>
<text transform="translate(320.95,385.50) scale(0.8333,1)" font-size="5.28" fill="#F564E3" stroke="#F564E3" stroke-width="0.090" text-anchor="middle" >PZ20.C</text>
<line x1="215.10" y1="396.10" x2="97.20" y2="346.10" stroke="#2b2b2b" stroke-width="0.6"/><polyline points="99.13,348.66 97.20,346.10 100.38,345.71" fill="none" stroke="#2b2b2b" stroke-width="0.6"/>
<line x1="215.10" y1="396.10" x2="77.70" y2="362.10" stroke="#2b2b2b" stroke-width="0.6"/><polyline points="80.01,364.32 77.70,362.10 80.77,361.21" fill="none" stroke="#2b2b2b" stroke-width="0.6"/>
<line x1="215.10" y1="396.10" x2="71.70" y2="362.60" stroke="#2b2b2b" stroke-width="0.6"/><polyline points="74.03,364.79 71.70,362.60 74.76,361.67" fill="none" stroke="#2b2b2b" stroke-width="0.6"/>
<line x1="215.10" y1="396.10" x2="72.40" y2="366.60" stroke="#2b2b2b" stroke-width="0.6"/><polyline points="74.79,368.73 72.40,366.60 75.44,365.59" fill="none" stroke="#2b2b2b" stroke-width="0.6"/>
<line x1="215.10" y1="396.10" x2="281.80" y2="302.10" stroke="#2b2b2b" stroke-width="0.6"/><polyline points="278.89,303.43 281.80,302.10 281.50,305.29" fill="none" stroke="#2b2b2b" stroke-width="0.6"/>
<line x1="215.10" y1="396.10" x2="297.90" y2="313.20" stroke="#2b2b2b" stroke-width="0.6"/><polyline points="294.81,314.03 297.90,313.20 297.07,316.29" fill="none" stroke="#2b2b2b" stroke-width="0.6"/>
<line x1="215.10" y1="396.10" x2="317.50" y2="324.90" stroke="#2b2b2b" stroke-width="0.6"/><polyline points="314.31,325.17 317.50,324.90 316.14,327.80" fill="none" stroke="#2b2b2b" stroke-width="0.6"/>
<line x1="215.10" y1="396.10" x2="332.30" y2="343.70" stroke="#2b2b2b" stroke-width="0.6"/><polyline points="329.12,343.37 332.30,343.70 330.42,346.29" fill="none" stroke="#2b2b2b" stroke-width="0.6"/>
<line x1="215.10" y1="396.10" x2="360.70" y2="423.80" stroke="#2b2b2b" stroke-width="0.6"/><polyline points="358.28,421.71 360.70,423.80 357.68,424.85" fill="none" stroke="#2b2b2b" stroke-width="0.6"/>
<line x1="215.10" y1="396.10" x2="359.20" y2="430.10" stroke="#2b2b2b" stroke-width="0.6"/><polyline points="356.87,427.91 359.20,430.10 356.14,431.02" fill="none" stroke="#2b2b2b" stroke-width="0.6"/>
<line x1="215.10" y1="396.10" x2="190.20" y2="492.40" stroke="#2b2b2b" stroke-width="0.6"/><polyline points="192.44,490.12 190.20,492.40 189.34,489.32" fill="none" stroke="#2b2b2b" stroke-width="0.6"/>
<text transform="translate(90.50,346.91) scale(0.8333,1)" font-size="6.96" fill="#000" stroke="#000" stroke-width="0.160" text-anchor="middle" >Clay</text>
<text transform="translate(80.70,359.71) scale(0.8333,1)" font-size="6.96" fill="#000" stroke="#000" stroke-width="0.160" text-anchor="middle" >GSD</text>
<text transform="translate(53.60,364.71) scale(0.8333,1)" font-size="6.96" fill="#000" stroke="#000" stroke-width="0.160" text-anchor="middle" >TextureClass</text>
<text transform="translate(73.35,375.81) scale(0.8333,1)" font-size="6.96" fill="#000" stroke="#000" stroke-width="0.160" text-anchor="middle" >Silt</text>
<text transform="translate(282.70,300.61) scale(0.8333,1)" font-size="6.96" fill="#000" stroke="#000" stroke-width="0.160" text-anchor="middle" >BDim1</text>
<text transform="translate(297.60,311.71) scale(0.8333,1)" font-size="6.96" fill="#000" stroke="#000" stroke-width="0.160" text-anchor="middle" >BDim2</text>
<text transform="translate(322.70,326.81) scale(0.8333,1)" font-size="6.96" fill="#000" stroke="#000" stroke-width="0.160" text-anchor="middle" >BD</text>
<text transform="translate(339.35,344.01) scale(0.8333,1)" font-size="6.96" fill="#000" stroke="#000" stroke-width="0.160" text-anchor="middle" >MP5</text>
<text transform="translate(369.35,427.81) scale(0.8333,1)" font-size="6.96" fill="#000" stroke="#000" stroke-width="0.160" text-anchor="middle" >GDP</text>
<text transform="translate(368.20,435.31) scale(0.8333,1)" font-size="6.96" fill="#000" stroke="#000" stroke-width="0.160" text-anchor="middle" >Sand</text>
<text transform="translate(189.95,499.01) scale(0.8333,1)" font-size="6.96" fill="#000" stroke="#000" stroke-width="0.160" text-anchor="middle" >TOC</text>
<rect x="333.5" y="447.3" width="32.3" height="77.8" fill="#fff" stroke="#e0e0e0" stroke-width="0.6"/>
<circle cx="340.80" cy="453.80" r="2.9" fill="#F8766D"/><text x="351.00" y="456.20" font-size="6.5" fill="#111" stroke="#111" stroke-width="0.180" text-anchor="start" >AR</text><path d="M337.35 468.69L344.25 468.69L340.80 462.72Z" fill="#C09C00"/><text x="351.00" y="469.10" font-size="6.5" fill="#111" stroke="#111" stroke-width="0.180" text-anchor="start" >CM</text><path d="M337.35 481.59L344.25 481.59L340.80 475.62Z" fill="#00BB28"/><text x="351.00" y="482.00" font-size="6.5" fill="#111" stroke="#111" stroke-width="0.180" text-anchor="start" >LV</text><path d="M337.35 494.49L344.25 494.49L340.80 488.52Z" fill="#00BFC4"/><text x="351.00" y="494.90" font-size="6.5" fill="#111" stroke="#111" stroke-width="0.180" text-anchor="start" >PH</text><circle cx="340.80" cy="505.40" r="2.9" fill="#619CFF"/><text x="351.00" y="507.80" font-size="6.5" fill="#111" stroke="#111" stroke-width="0.180" text-anchor="start" >PZ</text><circle cx="340.80" cy="518.30" r="2.9" fill="#F564E3"/><text x="351.00" y="520.70" font-size="6.5" fill="#111" stroke="#111" stroke-width="0.180" text-anchor="start" >PZ</text>
<rect x="24.6" y="291.3" width="353.9" height="240.49999999999994" fill="none" stroke="#bdbdbd" stroke-width="1"/>
<line x1="117.35" y1="531.8" x2="117.35" y2="533.8" stroke="#333" stroke-width="0.6"/>
<text transform="translate(117.35,539.90) scale(0.8333,1)" font-size="6.84" fill="#4d4d4d" stroke="#4d4d4d" stroke-width="0.090" text-anchor="middle" >−2.5</text>
<line x1="215.1" y1="531.8" x2="215.1" y2="533.8" stroke="#333" stroke-width="0.6"/>
<text transform="translate(215.10,539.90) scale(0.8333,1)" font-size="6.84" fill="#4d4d4d" stroke="#4d4d4d" stroke-width="0.090" text-anchor="middle" >0.0</text>
<line x1="312.85" y1="531.8" x2="312.85" y2="533.8" stroke="#333" stroke-width="0.6"/>
<text transform="translate(312.85,539.90) scale(0.8333,1)" font-size="6.84" fill="#4d4d4d" stroke="#4d4d4d" stroke-width="0.090" text-anchor="middle" >2.5</text>
<line x1="22.6" y1="341.90000000000003" x2="24.6" y2="341.90000000000003" stroke="#333" stroke-width="0.6"/>
<text transform="translate(21.20,344.35) scale(0.8333,1)" font-size="6.84" fill="#4d4d4d" stroke="#4d4d4d" stroke-width="0.090" text-anchor="end" >2</text>
<line x1="22.6" y1="396.1" x2="24.6" y2="396.1" stroke="#333" stroke-width="0.6"/>
<text transform="translate(21.20,398.55) scale(0.8333,1)" font-size="6.84" fill="#4d4d4d" stroke="#4d4d4d" stroke-width="0.090" text-anchor="end" >0</text>
<line x1="22.6" y1="450.3" x2="24.6" y2="450.3" stroke="#333" stroke-width="0.6"/>
<text transform="translate(21.20,452.75) scale(0.8333,1)" font-size="6.84" fill="#4d4d4d" stroke="#4d4d4d" stroke-width="0.090" text-anchor="end" >−2</text>
<line x1="22.6" y1="504.5" x2="24.6" y2="504.5" stroke="#333" stroke-width="0.6"/>
<text transform="translate(21.20,506.95) scale(0.8333,1)" font-size="6.84" fill="#4d4d4d" stroke="#4d4d4d" stroke-width="0.090" text-anchor="end" >−4</text>
<line x1="60.80000000000001" y1="289.3" x2="60.80000000000001" y2="291.3" stroke="#4b4ba6" stroke-width="0.6"/>
<text transform="translate(60.80,288.10) scale(0.8333,1)" font-size="6.84" fill="#4b4ba6" stroke="#4b4ba6" stroke-width="0.090" text-anchor="middle" >−1.0</text>
<line x1="138.05" y1="289.3" x2="138.05" y2="291.3" stroke="#4b4ba6" stroke-width="0.6"/>
<text transform="translate(138.05,288.10) scale(0.8333,1)" font-size="6.84" fill="#4b4ba6" stroke="#4b4ba6" stroke-width="0.090" text-anchor="middle" >−0.5</text>
<line x1="215.3" y1="289.3" x2="215.3" y2="291.3" stroke="#4b4ba6" stroke-width="0.6"/>
<text transform="translate(215.30,288.10) scale(0.8333,1)" font-size="6.84" fill="#4b4ba6" stroke="#4b4ba6" stroke-width="0.090" text-anchor="middle" >0.0</text>
<line x1="292.55" y1="289.3" x2="292.55" y2="291.3" stroke="#4b4ba6" stroke-width="0.6"/>
<text transform="translate(292.55,288.10) scale(0.8333,1)" font-size="6.84" fill="#4b4ba6" stroke="#4b4ba6" stroke-width="0.090" text-anchor="middle" >0.5</text>
<line x1="369.8" y1="289.3" x2="369.8" y2="291.3" stroke="#4b4ba6" stroke-width="0.6"/>
<text transform="translate(369.80,288.10) scale(0.8333,1)" font-size="6.84" fill="#4b4ba6" stroke="#4b4ba6" stroke-width="0.090" text-anchor="middle" >1.0</text>
<line x1="378.5" y1="342.55" x2="380.5" y2="342.55" stroke="#4b4ba6" stroke-width="0.6"/>
<text transform="translate(381.70,345.00) scale(0.8333,1)" font-size="6.84" fill="#4b4ba6" stroke="#4b4ba6" stroke-width="0.090" text-anchor="start" >0.5</text>
<line x1="378.5" y1="396.2" x2="380.5" y2="396.2" stroke="#4b4ba6" stroke-width="0.6"/>
<text transform="translate(381.70,398.65) scale(0.8333,1)" font-size="6.84" fill="#4b4ba6" stroke="#4b4ba6" stroke-width="0.090" text-anchor="start" >0.0</text>
<line x1="378.5" y1="449.84999999999997" x2="380.5" y2="449.84999999999997" stroke="#4b4ba6" stroke-width="0.6"/>
<text transform="translate(381.70,452.30) scale(0.8333,1)" font-size="6.84" fill="#4b4ba6" stroke="#4b4ba6" stroke-width="0.090" text-anchor="start" >−0.5</text>
<line x1="378.5" y1="503.5" x2="380.5" y2="503.5" stroke="#4b4ba6" stroke-width="0.6"/>
<text transform="translate(381.70,505.95) scale(0.8333,1)" font-size="6.84" fill="#4b4ba6" stroke="#4b4ba6" stroke-width="0.090" text-anchor="start" >−1.0</text>
<text x="201.50" y="548.20" font-size="7.4" fill="#111" text-anchor="middle" >Principal component 1 (58.10%)</text>
<text transform="translate(9.8,411.5) rotate(-90)" font-size="7.4" fill="#111" text-anchor="middle">Principal component 2 (32.07%)</text>
<text x="32.50" y="307.50" font-size="13" fill="#000" stroke="#000" stroke-width="0.200" text-anchor="start" >b</text>
</svg>
</body></html>
